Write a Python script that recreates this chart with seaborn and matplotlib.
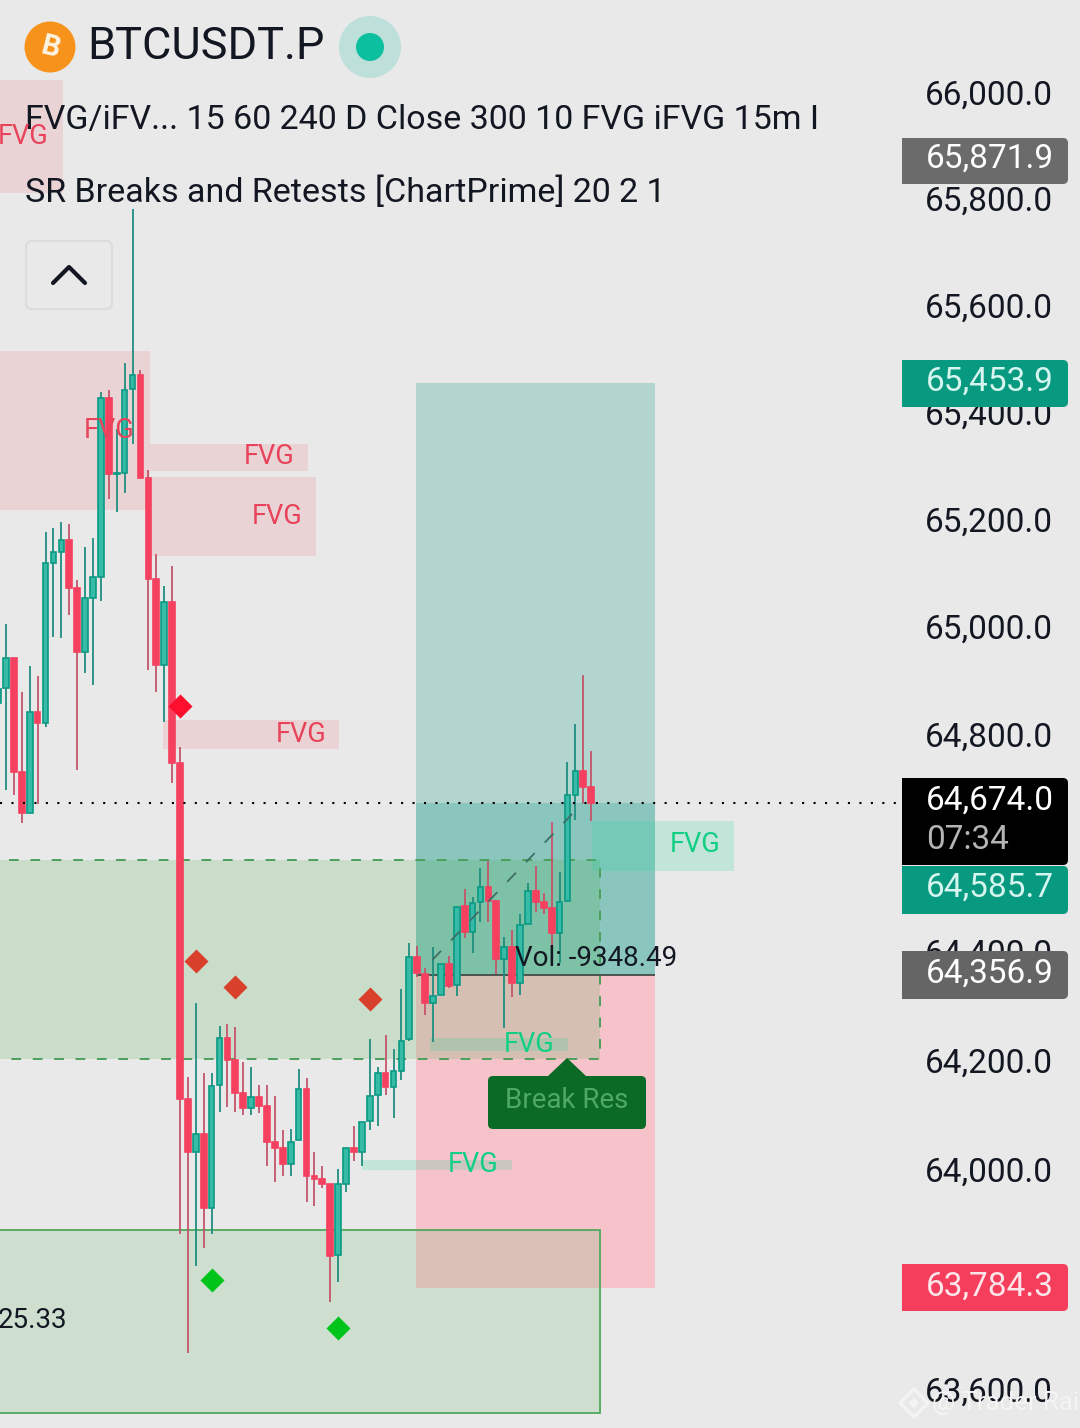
import numpy as np
import pandas as pd
import matplotlib
matplotlib.use("Agg")
import matplotlib.pyplot as plt
import seaborn as sns
from matplotlib.patches import Rectangle, Circle, FancyBboxPatch, Polygon
from matplotlib.ticker import FixedLocator, FuncFormatter, NullLocator

# 15m candles
opens = [64859, 64887, 64942, 64731, 64655, 64842, 64822, 65119, 65138, 65160, 65071, 64953, 65054, 65093, 65425, 65283,
         65285, 65443, 65469, 65276, 65089, 64929, 65045, 64748, 64129, 64032, 64064, 63929, 64155, 64241, 64201, 64140,
         64113, 64133, 64116, 64050, 64039, 64010, 64053, 64148, 63988, 63983, 63974, 63843, 63974, 64039, 64032, 64089,
         64137, 64177, 64151, 64181, 64238, 64390, 64359, 64305, 64320, 64377, 64338, 64483, 64435, 64491, 64519, 64493,
         64385, 64407, 64341, 64450, 64511, 64491, 64480, 64433, 64493, 64689, 64733, 64702]
highs = [64901, 65005, 64942, 64879, 64926, 64909, 65176, 65184, 65195, 65191, 65086, 65147, 65165, 65437, 65441, 65367,
         65491, 65780, 65478, 65292, 65134, 65075, 65112, 64776, 64170, 64305, 64177, 64177, 64263, 64267, 64261, 64196,
         64188, 64155, 64155, 64135, 64072, 64074, 64183, 64168, 64032, 64006, 63974, 64001, 64039, 64079, 64087, 64238,
         64188, 64246, 64220, 64331, 64416, 64410, 64370, 64408, 64377, 64392, 64481, 64515, 64500, 64554, 64567, 64493,
         64426, 64439, 64468, 64526, 64557, 64507, 64639, 64546, 64750, 64820, 64911, 64770]
lows = [64846, 64698, 64689, 64637, 64655, 64672, 64813, 64981, 64979, 65021, 64735, 64913, 64892, 65047, 65237, 65213,
        65248, 65339, 65276, 64920, 64879, 64824, 64711, 63883, 63665, 63824, 63856, 63883, 64105, 64114, 64105, 64100,
        64100, 64103, 64006, 63977, 63988, 63988, 64053, 63941, 63933, 63966, 63759, 63794, 63959, 64016, 64006, 64072,
        64079, 64137, 64094, 64163, 64236, 64353, 64283, 64233, 64320, 64333, 64318, 64424, 64396, 64454, 64454, 64359,
        64259, 64316, 64320, 64450, 64472, 64468, 64406, 64378, 64493, 64642, 64673, 64640]
closes = [64885, 64942, 64731, 64655, 64842, 64822, 65119, 65138, 65160, 65071, 64953, 65054, 65093, 65425, 65283, 65285,
          65441, 65469, 65276, 65089, 64929, 65045, 64748, 64129, 64032, 64064, 63929, 64153, 64241, 64201, 64140, 64113,
          64133, 64116, 64050, 64039, 64010, 64051, 64148, 63988, 63983, 63974, 63842, 63974, 64039, 64032, 64087, 64135,
          64177, 64151, 64181, 64236, 64390, 64360, 64305, 64318, 64377, 64336, 64481, 64435, 64489, 64519, 64493, 64385,
          64407, 64341, 64448, 64511, 64491, 64480, 64433, 64491, 64689, 64733, 64702, 64674]

price_ticks = [66000, 65800, 65600, 65400, 65200, 65000, 64800, 64600, 64400, 64200, 64000, 63800, 63600]

# FVG zones: first bar, last bar, bottom price, top price
red_zones = [(-1, 8.2, 65810, 66023), (-1, 19.2, 65217, 65514), (19.2, 39.2, 65290, 65339),
             (19.2, 40.2, 65132, 65278), (20.9, 43.1, 64774, 64826)]
green_zones = [(75.1, 93.1, 64548, 64641), (54.6, 72.1, 64216, 64241), (46.0, 65.0, 63999, 64018)]

entry_price = 64356.9
target_price = 65453.9
stop_price = 63784.3
last_price = 64674.0
pos_bars = (52.9, 83.1)

sr_bars = (-1, 76.1)
sr_upper = (64203, 64568)
sr_lower = (63556, 63889)

sell_bars = [23]
sell_prices = [64852]
sr_sell_bars = [25, 30, 47]
sr_sell_prices = [64383, 64334, 64312]
buy_bars = [27, 43]
buy_prices = [63798, 63711]
trade_bars = [54.9, 73.9]
trade_prices = [64384, 64673]

BG = "#e9e9e9"
UP_EDGE = "#0a9a84"
UP_FILL = "#38bba6"
UP_WICK = "#1f8f80"
DOWN = "#f5405f"
DOWN_WICK = "#c4556a"

sns.set_theme(style="white", rc={"axes.facecolor": BG, "figure.facecolor": BG})
plt.rcParams["font.family"] = ["Roboto", "DejaVu Sans"]

candles = pd.DataFrame({"open": opens, "high": highs, "low": lows, "close": closes})
candles["bar"] = np.arange(len(candles))
up = candles[candles["close"] >= candles["open"]]
down = candles[candles["close"] < candles["open"]]

fig = plt.figure(figsize=(10.8, 14.28), dpi=100)
ax = fig.add_axes([0, 0, 902 / 1080, 1])
ax.set_yscale("log")

# position tool
ax.add_patch(Rectangle((pos_bars[0], entry_price), pos_bars[1] - pos_bars[0], target_price - entry_price,
                       fc="#089981", alpha=0.24, lw=0, zorder=1))
ax.add_patch(Rectangle((pos_bars[0], entry_price), pos_bars[1] - pos_bars[0], last_price - entry_price,
                       fc="#089981", alpha=0.24, lw=0, zorder=1))
ax.add_patch(Rectangle((pos_bars[0], stop_price), pos_bars[1] - pos_bars[0], entry_price - stop_price,
                       fc="#ffaab7", alpha=0.6, lw=0, zorder=1))

# support / resistance boxes
ax.add_patch(Rectangle((sr_bars[0], sr_upper[0]), sr_bars[1] - sr_bars[0], sr_upper[1] - sr_upper[0],
                       fc=(0.30, 0.69, 0.31, 0.2), ec="#4c9f5c", lw=1.4, ls=(0, (5, 6)), zorder=2))
ax.add_patch(Rectangle((sr_bars[0], sr_lower[0]), sr_bars[1] - sr_bars[0], sr_lower[1] - sr_lower[0],
                       fc=(0.30, 0.69, 0.31, 0.17), ec="#4fa85e", lw=1.3, zorder=2))

for x0, x1, y0, y1 in red_zones:
    ax.add_patch(Rectangle((x0, y0), x1 - x0, y1 - y0, fc="#f23645", alpha=0.12, lw=0, zorder=2))
for x0, x1, y0, y1 in green_zones:
    ax.add_patch(Rectangle((x0, y0), x1 - x0, y1 - y0, fc="#26d69c", alpha=0.2, lw=0, zorder=2))

ax.hlines(entry_price, pos_bars[0], pos_bars[1], color="#444b48", lw=1.3, zorder=3)

# candles
ax.vlines(up["bar"], up["low"], up["high"], color=UP_WICK, lw=1.3, zorder=4)
ax.vlines(down["bar"], down["low"], down["high"], color=DOWN_WICK, lw=1.3, zorder=4)
ax.bar(up["bar"], up["close"] - up["open"], bottom=up["open"], width=0.72,
       color=UP_FILL, edgecolor=UP_EDGE, linewidth=1.2, zorder=5)
ax.bar(down["bar"], down["open"] - down["close"], bottom=down["close"], width=0.72,
       color=DOWN, edgecolor=DOWN, linewidth=1.2, zorder=5)

sns.lineplot(x=trade_bars, y=trade_prices, color="#3f6f66", lw=1.3, ls=(0, (7, 8)), ax=ax, zorder=6)
ax.axhline(last_price, color="black", lw=1.5, ls=(0, (1, 4.5)), zorder=6)

sns.scatterplot(x=sell_bars, y=sell_prices, marker="D", s=150, color="#ff0f2e", linewidth=0, ax=ax, zorder=7)
sns.scatterplot(x=sr_sell_bars, y=sr_sell_prices, marker="D", s=150, color="#d8402c", linewidth=0, ax=ax, zorder=7)
sns.scatterplot(x=buy_bars, y=buy_prices, marker="D", s=150, color="#00c41a", linewidth=0, ax=ax, zorder=7)

ax.set_xlim(0.24, 114.3)
ax.set_ylim(63529.2, 66173.6)
ax.set_xticks([])
ax.set_xlabel("")
ax.set_ylabel("")
ax.yaxis.tick_right()
ax.yaxis.set_major_locator(FixedLocator(price_ticks))
ax.yaxis.set_minor_locator(NullLocator())
ax.yaxis.set_major_formatter(FuncFormatter(lambda v, _: f"{v:,.1f}"))
ax.tick_params(axis="y", length=0, pad=16.6, labelsize=24, labelcolor="#131722")
for s in ax.spines.values():
    s.set_visible(False)

# overlay in picture pixels for header, tags and labels
ov = fig.add_axes([0, 0, 1, 1], facecolor="none", zorder=5)
ov.set_xlim(0, 1080)
ov.set_ylim(1428, 0)
ov.axis("off")

ov.add_patch(Circle((50, 47), 25.5, fc="#f7931a", ec="none"))
ov.text(50, 47, "B", color="#fdf3e3", fontsize=21, fontweight="bold", rotation=-14, ha="center", va="center")
ov.text(87, 47, "BTCUSDT.P", color="#131722", fontsize=32.5, va="center")
ov.add_patch(Circle((370, 47), 31, fc="#bde0da", ec="none"))
ov.add_patch(Circle((370, 47), 14, fc="#0cbf9f", ec="none"))

legend1 = ov.text(25, 120, "FVG/iFV... 15 60 240 D Close 300 10 FVG iFVG 15m I", color="#131722",
                  fontsize=24.5, va="center")
legend1.set_clip_path(Rectangle((0, 90), 890, 60, transform=ov.transData))
ov.text(25, 193, "SR Breaks and Retests [ChartPrime] 20 2 1", color="#131722", fontsize=24.5, va="center")

ov.add_patch(FancyBboxPatch((26, 241), 86, 68, boxstyle="round,pad=0,rounding_size=6", fc="none", ec="#dcdcdc", lw=1.5))
ov.plot([53, 69, 85], [283, 267, 283], color="#131722", lw=3, solid_capstyle="round")

for x, y, ha in [(49, 137, "right"), (135, 431, "right"), (295, 457, "right"), (303, 516, "right"), (326, 735, "right")]:
    ov.text(x, y, "FVG", color="#e8435a", fontsize=19.5, ha=ha, va="center")
for x, y in [(720, 845), (555, 1044), (499, 1165)]:
    ov.text(x, y, "FVG", color="#10cf85", fontsize=19.5, ha="right", va="center")

ov.text(515, 959, "Vol: -9348.49", color="#131722", fontsize=20, va="center")
ov.text(-2, 1321, "25.33", color="#131722", fontsize=20, va="center")

ov.add_patch(Polygon([[548, 1076], [567, 1058], [586, 1076]], fc="#0b6b26", ec="none"))
ov.add_patch(FancyBboxPatch((488, 1076), 158, 53, boxstyle="round,pad=0,rounding_size=5", fc="#0b6b26", ec="none"))
ov.text(567, 1100, "Break Res", color="#4fa866", fontsize=20, ha="center", va="center")


def price_tag(top, bottom, color, label, baseline, text_color="white"):
    ov.add_patch(FancyBboxPatch((902, top), 166, bottom - top, boxstyle="round,pad=0,rounding_size=5", fc=color, ec="none"))
    ov.add_patch(Rectangle((902, top), 20, bottom - top, fc=color, ec="none"))
    ov.text(926, baseline, label, color=text_color, fontsize=24, va="baseline")


price_tag(138, 184, "#6b6b6b", "65,871.9", 168)
price_tag(360, 407, "#089981", "65,453.9", 391, "#d5f5ee")
price_tag(778, 865, "#000000", "64,674.0", 810)
ov.text(926, 849, "07:34", color="#b4b4b4", fontsize=24, va="baseline")
price_tag(866, 914, "#089981", "64,585.7", 897, "#d5f5ee")
price_tag(951, 999, "#656565", "64,356.9", 983)
price_tag(1264, 1311, "#f53d5c", "63,784.3", 1296, "#fde6ea")

# watermark
ov.scatter([914], [1403], marker="D", s=200, fc="none", ec="#f4f4f4", lw=2.5)
ov.scatter([914], [1403], marker="D", s=30, fc="#f4f4f4", ec="none")
ov.text(932, 1403, "@ Trader Rai", color="#f4f4f4", fontsize=18.5, va="center")

fig.savefig("out.png", dpi=100, facecolor=BG)
